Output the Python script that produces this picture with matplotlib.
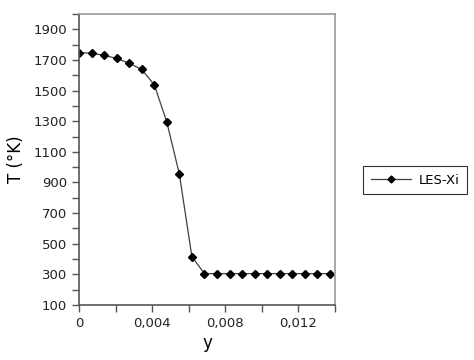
import matplotlib
matplotlib.use("Agg")
import matplotlib.pyplot as plt
from matplotlib.ticker import MultipleLocator, FuncFormatter

y_pos = [0.0, 0.000686, 0.001372, 0.002058, 0.002744, 0.00343, 0.004116, 0.004802,
         0.005488, 0.006174, 0.00686, 0.007546, 0.008232, 0.008918, 0.009604,
         0.01029, 0.010976, 0.011662, 0.012348, 0.013034, 0.01372]
temp = [1748, 1744, 1730, 1710, 1678, 1638, 1538, 1295, 955, 415, 305,
        305, 305, 305, 305, 305, 305, 305, 305, 305, 305]
series_name = "LES-Xi"
x_label = "y"
y_label = "T (°K)"

fig = plt.figure(figsize=(4.74, 3.6), dpi=100)
ax = fig.add_axes([79/474, 1 - 305/360, (335-79)/474, (305-14)/360])
ax.plot(y_pos, temp, color="#404040", lw=0.9, marker="D", ms=4.4,
        mfc="black", mec="black", label=series_name)
ax.set_xlim(0, 0.014)
ax.set_ylim(100, 2000)
ax.xaxis.set_major_locator(MultipleLocator(0.004))
ax.xaxis.set_minor_locator(MultipleLocator(0.002))
ax.set_yticks([100, 300, 500, 700, 900, 1100, 1300, 1500, 1700, 1900])
ax.set_yticks([200, 400, 600, 800, 1000, 1200, 1400, 1600, 1800, 2000], minor=True)

def xfmt(v, p):
    if abs(v) < 1e-12:
        return "0"
    return ("%.3f" % v).replace(".", ",")
ax.xaxis.set_major_formatter(FuncFormatter(xfmt))
ax.tick_params(axis="both", which="both", direction="out", labelsize=9.5,
               colors="#222222", top=False, right=False)
ax.tick_params(which="major", length=5, width=1, color="#555555")
ax.tick_params(which="minor", length=5, width=1, color="#555555")
for s in ["left", "bottom"]:
    ax.spines[s].set_color("#555555")
    ax.spines[s].set_linewidth(1.2)
for s in ["top", "right"]:
    ax.spines[s].set_color("#999999")
    ax.spines[s].set_linewidth(1.2)
ax.set_xlabel(x_label, fontsize=12, labelpad=3)
ax.set_ylabel(y_label, fontsize=12, labelpad=6)
leg = ax.legend(loc="center left", bbox_to_anchor=(363/474, 1 - 180/360),
                bbox_transform=fig.transFigure, borderaxespad=0, frameon=True,
                fancybox=False, edgecolor="black", fontsize=9.5, handlelength=3.0,
                handletextpad=0.6, borderpad=0.6, markerscale=0.8)
leg.get_frame().set_linewidth(0.8)
fig.savefig("out.png", dpi=100)
